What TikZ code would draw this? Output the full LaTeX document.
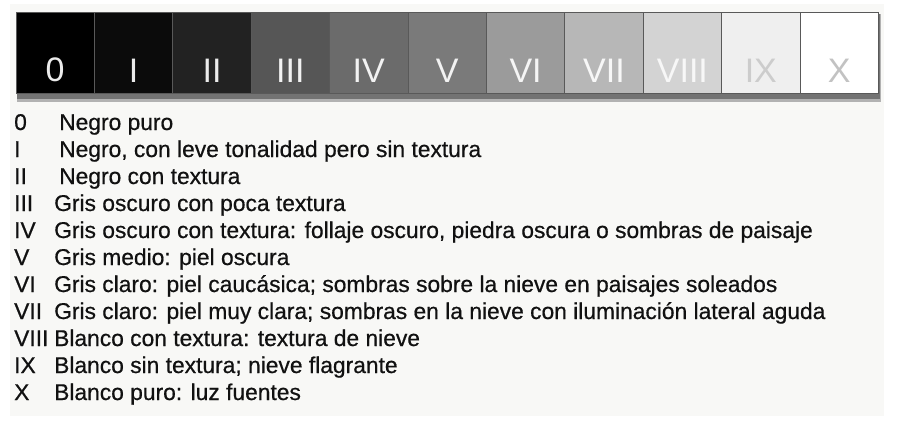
\documentclass[tikz,border=0pt]{standalone}
\usepackage{fontspec}
\setmainfont{Liberation Sans}
\newfontfamily\keyfont{Liberation Sans}[FakeBold=0.6]
\usepackage{tikz}
\usetikzlibrary{positioning, calc}
\definecolor{paper}{RGB}{248, 248, 246}
\definecolor{zone0}{RGB}{0, 0, 0}
\definecolor{zone1}{RGB}{11, 11, 11}
\definecolor{zone2}{RGB}{34, 34, 34}
\definecolor{zone3}{RGB}{86, 86, 86}
\definecolor{zone4}{RGB}{107, 107, 107}
\definecolor{zone5}{RGB}{122, 122, 122}
\definecolor{zone6}{RGB}{155, 155, 155}
\definecolor{zone7}{RGB}{183, 183, 183}
\definecolor{zone8}{RGB}{211, 211, 211}
\definecolor{zone9}{RGB}{239, 239, 239}
\definecolor{zone10}{RGB}{255, 255, 255}
\definecolor{ink}{RGB}{17, 17, 17}

\begin{document}
\begin{tikzpicture}[x=1pt, y=-1pt]
\tikzstyle{zonec}=[rectangle, draw=black!65, line width=0.8pt, minimum width=78.4pt, minimum height=81pt, inner sep=0pt]
\tikzstyle{zonen}=[inner sep=0pt, font=\fontsize{34}{36}\selectfont, text=white]
\tikzstyle{keyn}=[anchor=base west, inner sep=0pt, text=ink, font=\keyfont\fontsize{22.8}{26}\selectfont]
%%
\useasboundingbox (0,0) rectangle (901,424);
\fill[white] (0,0) rectangle (901,424);
\fill[paper] (10,4) rectangle (884,416);
%% shadow of the strip
\fill[black!30] (17,14) rectangle (881,102);
\fill[black!55] (17,14) rectangle (880,99);
%%
\node (z0) at (55.2, 52.5) [zonec, fill=zone0] {};
\node (z1) at (133.6, 52.5) [zonec, fill=zone1] {};
\node (z2) at (212.0, 52.5) [zonec, fill=zone2] {};
\node (z3) at (290.4, 52.5) [zonec, fill=zone3] {};
\node (z4) at (368.8, 52.5) [zonec, fill=zone4] {};
\node (z5) at (447.2, 52.5) [zonec, fill=zone5] {};
\node (z6) at (525.6, 52.5) [zonec, fill=zone6] {};
\node (z7) at (604.0, 52.5) [zonec, fill=zone7] {};
\node (z8) at (682.4, 52.5) [zonec, fill=zone8] {};
\node (z9) at (760.8, 52.5) [zonec, fill=zone9] {};
\node (z10) at (839.2, 52.5) [zonec, fill=zone10] {};

\node [above=11pt of z0.south, zonen, text=black!8](n0) {0};
\node [above=11pt of z1.south, zonen, text=black!8](n1) {I};
\node [above=11pt of z2.south, zonen, text=black!8](n2) {II};
\node [above=11pt of z3.south, zonen, text=black!5](n3) {III};
\node [above=11pt of z4.south, zonen, text=black!5](n4) {IV};
\node [above=11pt of z5.south, zonen, text=black!5](n5) {V};
\node [above=11pt of z6.south, zonen, text=black!4](n6) {VI};
\node [above=11pt of z7.south, zonen, text=black!3](n7) {VII};
\node [above=11pt of z8.south, zonen, text=black!3](n8) {VIII};
\node [above=11pt of z9.south, zonen, text=black!20](n9) {IX};
\node [above=11pt of z10.south, zonen, text=black!24](n10) {X};

%% key below the strip
\node (k0) at (14, 130) [keyn] {0};
\node (k1) at (14, 157) [keyn] {I};
\node (k2) at (14, 184) [keyn] {II};
\node (k3) at (14, 211) [keyn] {III};
\node (k4) at (14, 238) [keyn] {IV};
\node (k5) at (14, 265) [keyn] {V};
\node (k6) at (14, 292) [keyn] {VI};
\node (k7) at (14, 319) [keyn] {VII};
\node (k8) at (14, 346) [keyn] {VIII};
\node (k9) at (14, 373) [keyn] {IX};
\node (k10) at (14, 400) [keyn] {X};

\node (d0) at (59, 130) [keyn] {Negro puro};
\node (d1) at (59, 157) [keyn] {Negro, con leve tonalidad pero sin textura};
\node (d2) at (59, 184) [keyn] {Negro con textura};
\node (d3) at (54, 211) [keyn] {Gris oscuro con poca textura};
\node (d4) at (54, 238) [keyn] {Gris oscuro con textura: follaje oscuro, piedra oscura o sombras de paisaje};
\node (d5) at (54, 265) [keyn] {Gris medio: piel oscura};
\node (d6) at (54, 292) [keyn] {Gris claro: piel caucásica; sombras sobre la nieve en paisajes soleados};
\node (d7) at (54, 319) [keyn] {Gris claro: piel muy clara; sombras en la nieve con iluminación lateral aguda};
\node (d8) at (54, 346) [keyn] {Blanco con textura: textura de nieve};
\node (d9) at (54, 373) [keyn] {Blanco sin textura; nieve flagrante};
\node (d10) at (54, 400) [keyn] {Blanco puro: luz fuentes};
\end{tikzpicture}
\end{document}
